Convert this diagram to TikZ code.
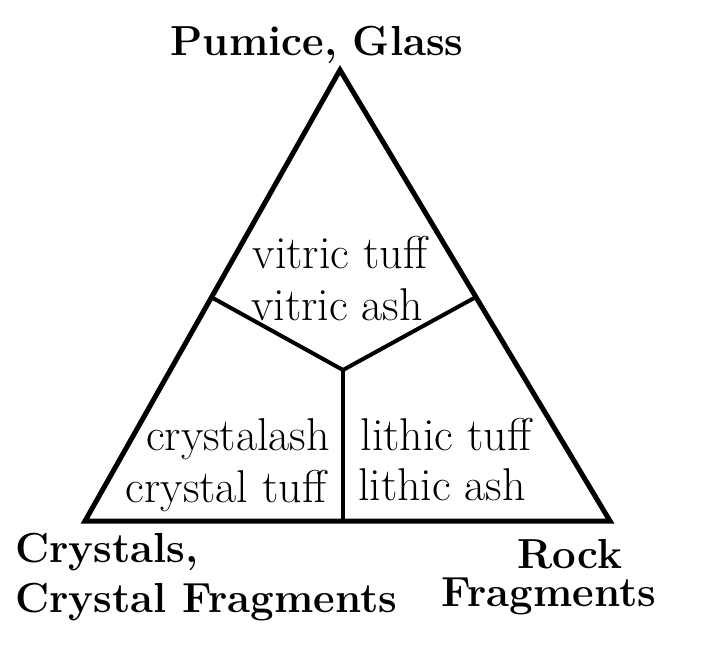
\documentclass[tikz,border=0pt]{standalone}
\usepackage{tikz}

\begin{document}
\begin{tikzpicture}[x=1pt,y=-1pt,
  lab/.style={font=\fontsize{46}{50}\selectfont, inner sep=0pt},
  corner/.style={font=\fontsize{42}{46}\selectfont\bfseries, inner sep=0pt}]
\useasboundingbox (0,0) rectangle (713,653);
% triangle corners and inner points
\coordinate (top) at (340,70);
\coordinate (cry) at (85,521);
\coordinate (rock) at (610,521);
\coordinate (lj) at (211,297);
\coordinate (rj) at (476,297);
\coordinate (mid) at (343,370);
\coordinate (bot) at (343,521);
\draw [line width=5pt, line join=miter] (top)--(cry)--(rock)--cycle;
\draw [line width=4pt, line join=round] (lj)--(mid)--(rj);
\draw [line width=4pt] (mid)--(bot);
% fields
\node [lab,anchor=base] (vt) at (340,268) {vitric tuff};
\node [lab,anchor=base] (va) at (337,320) {vitric ash};
\node [lab,anchor=base] (ca) at (238,450) {crystalash};
\node [lab,anchor=base] (ct) at (226,502) {crystal tuff};
\node [lab,anchor=base] (la) at (442,500) {lithic ash};
\node [lab,anchor=base] (lt) at (446,450) {lithic tuff};
% corners
\node [corner,anchor=base] (pg) at (317,55) {Pumice, Glass};
\node [corner,anchor=base west] (c1) at (15,562) {Crystals,};
\node [corner,anchor=base west] (c2) at (15,612) {Crystal Fragments};
\node [corner,anchor=base] (r1) at (570,568) {Rock};
\node [corner,anchor=base] (r2) at (549,606) {Fragments};
\end{tikzpicture}
\end{document}
